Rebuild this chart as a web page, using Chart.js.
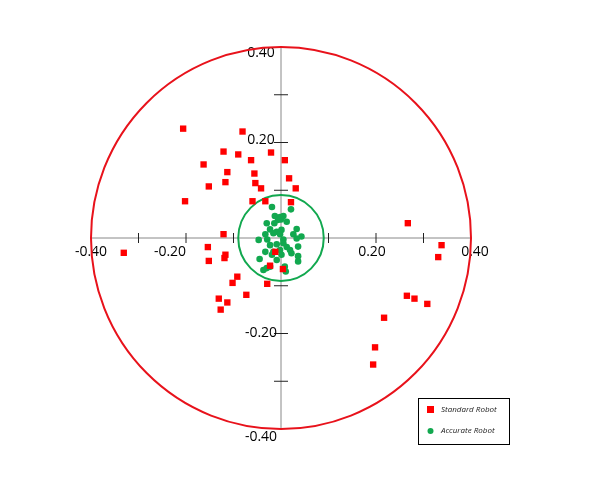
<!DOCTYPE html>
<html><head><meta charset="utf-8">
<script src="https://cdn.jsdelivr.net/npm/chart.js@4"></script>
<style>body{margin:0;background:#fff}#wrap{width:597px;height:478px}</style>
</head><body><div id="wrap"><canvas id="c"></canvas></div>
<script>
// standard robot deviations (x, y)
var stdX = [-0.206,-0.081,-0.121,-0.09,-0.021,-0.163,-0.063,0.008,-0.113,-0.056,0.017,-0.152,-0.117,-0.054,-0.042,0.031,-0.202,-0.06,-0.033,0.021,-0.121,-0.331,-0.154,-0.152,-0.117,-0.119,-0.023,0.004,-0.092,-0.102,-0.029,-0.073,-0.131,-0.113,-0.127,-0.012,0.267,0.338,0.331,0.408,0.265,0.281,0.308,0.217,0.198,0.194];
var stdY = [0.229,0.223,0.181,0.175,0.179,0.154,0.163,0.163,0.138,0.135,0.125,0.108,0.117,0.115,0.104,0.104,0.077,0.077,0.077,0.075,0.008,-0.031,-0.019,-0.048,-0.035,-0.042,-0.058,-0.065,-0.081,-0.094,-0.096,-0.119,-0.127,-0.135,-0.15,-0.029,0.031,-0.015,-0.04,-0.09,-0.121,-0.127,-0.138,-0.167,-0.229,-0.265];
// accurate robot deviations
var accX = [-0.019,0.021,-0.013,-0.002,0.005,-0.006,0,-0.03,-0.014,0.012,0.033,-0.023,-0.009,0.001,-0.033,-0.016,-0.002,0.026,0.043,-0.047,-0.029,0.005,0.033,0.036,-0.023,-0.009,0.005,0.012,-0.002,0.019,-0.016,-0.033,0.022,-0.019,0.001,-0.009,0.036,-0.045,0.036,0.008,-0.03,-0.023,0.01,-0.037];
var accY = [0.065,0.06,0.046,0.044,0.046,0.038,0.039,0.031,0.031,0.034,0.019,0.018,0.013,0.017,0.008,0.01,0.008,0.008,0.003,-0.004,-0.003,-0.003,-0.001,-0.018,-0.015,-0.013,-0.011,-0.019,-0.025,-0.025,-0.029,-0.029,-0.032,-0.035,-0.035,-0.046,-0.038,-0.044,-0.049,-0.06,-0.063,-0.06,-0.07,-0.067];
var circleR = [0.4, 0.09];
var circleColors = ['#e8121b', '#12a84f'];
var xTickLabels = {'-0.4':'-0.40','-0.2':'-0.20','0.2':'0.20','0.4':'0.40'};
var yTickLabels = {'0.4':'0.40','0.2':'0.20','-0.2':'-0.20','-0.4':'-0.40'};
var minorTicks = [-0.3,-0.2,-0.1,0.1,0.2,0.3];

function pts(xs, ys){ return xs.map(function(v,i){ return {x:v, y:ys[i]}; }); }

var deco = {
  id:'deco',
  beforeDatasetsDraw: function(chart){
    var ctx = chart.ctx, sx = chart.scales.x, sy = chart.scales.y;
    var cx = sx.getPixelForValue(0), cy = sy.getPixelForValue(0);
    ctx.save();
    ctx.strokeStyle = '#888'; ctx.lineWidth = 1;
    ctx.beginPath();
    ctx.moveTo(sx.getPixelForValue(-0.4), cy); ctx.lineTo(sx.getPixelForValue(0.4), cy);
    ctx.moveTo(cx, sy.getPixelForValue(0.4)); ctx.lineTo(cx, sy.getPixelForValue(-0.4));
    ctx.stroke();
    ctx.strokeStyle = '#222';
    ctx.beginPath();
    minorTicks.forEach(function(t){
      var px = sx.getPixelForValue(t); ctx.moveTo(px, cy-5); ctx.lineTo(px, cy+5);
      var py = sy.getPixelForValue(t); ctx.moveTo(cx-7, py); ctx.lineTo(cx+7, py);
    });
    ctx.stroke();
    ctx.fillStyle = '#000'; ctx.font = '14px "Open Sans"'; ctx.textAlign = 'center'; ctx.textBaseline = 'middle';
    Object.keys(xTickLabels).forEach(function(k){
      var v = +k, off = {'-0.4':0, '-0.2':-16, '0.2':-4, '0.4':4}[k];
      ctx.fillText(xTickLabels[k], sx.getPixelForValue(v) + off, cy + 14);
    });
    Object.keys(yTickLabels).forEach(function(k){
      var v = +k, py = sy.getPixelForValue(v);
      if (v === 0.4) py += 6; if (v === -0.4) py += 8; if (v === 0.2) py -= 2;
      ctx.fillText(yTickLabels[k], cx - 20, py);
    });
    circleR.forEach(function(r, i){
      ctx.strokeStyle = circleColors[i]; ctx.lineWidth = 2;
      ctx.beginPath();
      ctx.ellipse(cx, cy, sx.getPixelForValue(r) - cx, cy - sy.getPixelForValue(r), 0, 0, Math.PI*2);
      ctx.stroke();
    });
    ctx.restore();
  },
  afterDraw: function(chart){
    var ctx = chart.ctx;
    ctx.save();
    ctx.strokeStyle = '#000'; ctx.lineWidth = 1;
    ctx.strokeRect(418.5, 398.5, 91, 46);
    ctx.fillStyle = '#f00'; ctx.fillRect(427, 406, 7, 7);
    ctx.fillStyle = '#12a84f'; ctx.beginPath(); ctx.arc(430.5, 431, 3, 0, Math.PI*2); ctx.fill();
    ctx.fillStyle = '#222'; ctx.font = 'italic 8px "Open Sans"'; ctx.textBaseline = 'middle';
    ctx.fillText(chart.data.datasets[0].label, 441, 410);
    ctx.fillText(chart.data.datasets[1].label, 441, 431);
    ctx.restore();
  }
};

new Chart(document.getElementById('c'), {
  type: 'scatter',
  data: { datasets: [
    { label:'Standard Robot', data: pts(stdX, stdY), pointStyle:'rect', pointRadius:4.5, backgroundColor:'#f00', borderColor:'#f00', borderWidth:0 },
    { label:'Accurate Robot', data: pts(accX, accY), pointStyle:'circle', pointRadius:3.3, backgroundColor:'#12a84f', borderColor:'#12a84f', borderWidth:0 }
  ]},
  options: {
    responsive:true, maintainAspectRatio:false, animation:false,
    layout:{ padding:{ left:91, right:126, top:47, bottom:49 } },
    plugins:{ legend:{display:false}, tooltip:{enabled:false} },
    scales:{
      x:{ min:-0.4, max:0.4, display:false },
      y:{ min:-0.4, max:0.4, display:false }
    }
  },
  plugins:[deco]
});
</script></body></html>
